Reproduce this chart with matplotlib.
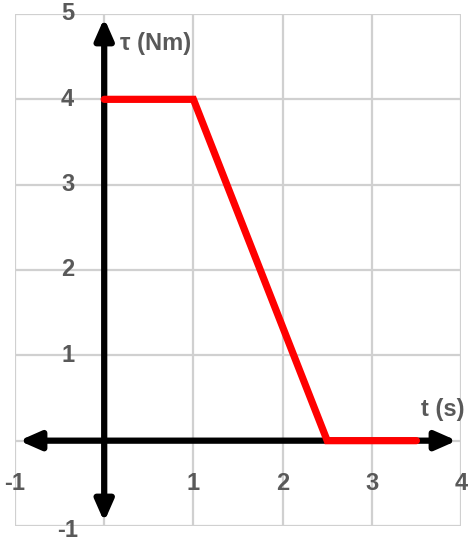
import matplotlib.pyplot as plt

# data of the torque curve
t_vals = [0, 1, 2.5, 3.5]
tau_vals = [4, 4, 0, 0]

x_ticks = [-1, 1, 2, 3, 4]
y_ticks = [5, 4, 3, 2, 1, -1]

fig = plt.figure(figsize=(4.74, 5.42), dpi=100)
ax = fig.add_axes([15 / 474, 16 / 542, 446 / 474, 512 / 542])
ax.set_xlim(-1, 4)
ax.set_ylim(-1, 5)

# grid
for x in range(-1, 5):
    ax.axvline(x, color='#d0d0d0', lw=1.6, zorder=0)
for y in range(-1, 6):
    ax.axhline(y, color='#d0d0d0', lw=1.6, zorder=0)

for s in ax.spines.values():
    s.set_visible(False)
ax.set_xticks([])
ax.set_yticks([])

# axes with arrows
arrow = dict(arrowstyle='<|-|>,head_length=1.25,head_width=0.55', color='black',
             lw=4.5, shrinkA=3, shrinkB=3, mutation_scale=10)
ax.annotate('', xy=(4, 0), xytext=(-1, 0), arrowprops=arrow, zorder=2)
ax.annotate('', xy=(0, 5), xytext=(0, -1), arrowprops=arrow, zorder=2)

# torque curve
ax.plot(t_vals, tau_vals, color='#ff0000', lw=5.2, solid_capstyle='round',
        solid_joinstyle='miter', zorder=3)

txt = dict(color='#595959', fontsize=17, fontweight='bold', family='Liberation Sans')
for x in x_ticks:
    ax.text(x, -0.5, str(x), ha='center', va='center', **txt)
for y in y_ticks:
    yy = y if y != -1 else -1.05
    ax.text(-0.41, yy, str(y), ha='center', va='center', **txt)

ax.text(0.18, 4.65, 'τ (Nm)', ha='left', va='center', **txt)
ax.text(3.55, 0.37, 't (s)', ha='left', va='center', **txt)

for t in ax.texts:
    t.set_clip_on(False)

plt.savefig('out.png', dpi=100)
